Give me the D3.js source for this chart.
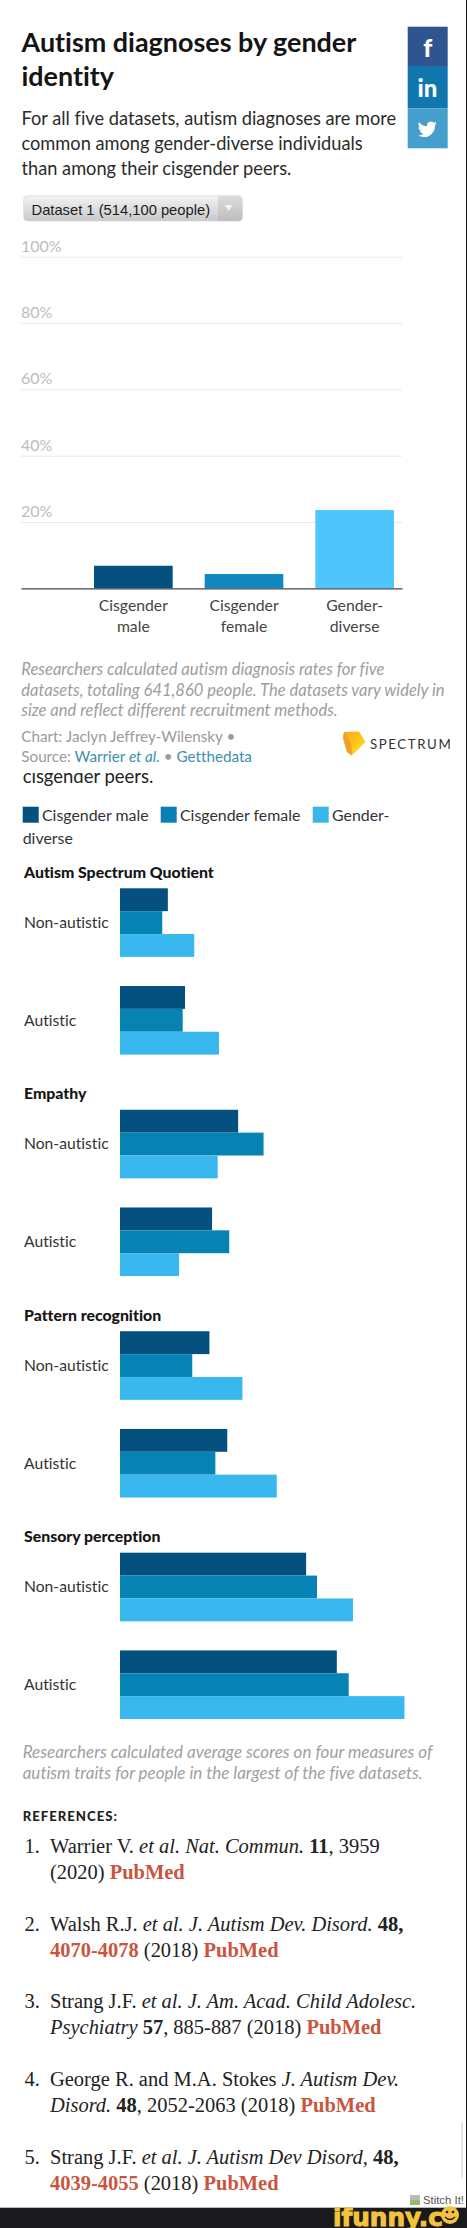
<!DOCTYPE html>
<html><head><meta charset="utf-8">
<script src="https://cdn.jsdelivr.net/npm/d3@7"></script>
<style>html,body{margin:0;padding:0;background:#fff;overflow:hidden}svg{display:block}text{font-variant-ligatures:none;font-feature-settings:"liga" 0,"clig" 0}</style>
</head><body><svg id="c" width="467" height="2228" xmlns="http://www.w3.org/2000/svg"></svg>
<script>
// ---- data ----
const titleLines = ["Autism diagnoses by gender", "identity"];
const subtitleLines = ["For all five datasets, autism diagnoses are more", "common among gender-diverse individuals", "than among their cisgender peers."];
const datasetLabel = "Dataset 1 (514,100 people)";
const tickValues = [20, 40, 60, 80, 100];
const categories = ["Cisgender male", "Cisgender female", "Gender-diverse"];
const categoryLines = [["Cisgender", "male"], ["Cisgender", "female"], ["Gender-", "diverse"]];
const diagnosisRates = [6.8, 4.3, 23.6];
const note1Lines = ["Researchers calculated autism diagnosis rates for five", "datasets, totaling 641,860 people. The datasets vary widely in", "size and reflect different recruitment methods."];
const measures = ["Autism Spectrum Quotient", "Empathy", "Pattern recognition", "Sensory perception"];
const rowsLabels = ["Non-autistic", "Autistic"];
const cisMale = [[14.5, 19.7], [35.8, 27.9], [27.1, 32.5], [56.4, 65.7]];
const cisFemale = [[12.8, 19.0], [43.5, 33.1], [21.9, 28.9], [59.7, 69.3]];
const genderDiverse = [[22.5, 30.0], [29.6, 17.9], [37.1, 47.5], [70.6, 86.2]];
const note2Lines = ["Researchers calculated average scores on four measures of", "autism traits for people in the largest of the five datasets."];
const references = [
 [[["Warrier V. ",""],["et al. Nat. Commun. ","i"],["11",'b'],[", 3959",""]], [["(2020) ",""],["PubMed","l"]]],
 [[["Walsh R.J. ",""],["et al. J. Autism Dev. Disord. ","i"],["48,","b"]], [["4070-4078","l"],[" (2018) ",""],["PubMed","l"]]],
 [[["Strang J.F. ",""],["et al. J. Am. Acad. Child Adolesc.","i"]], [["Psychiatry ","i"],["57","b"],[", 885-887 (2018) ",""],["PubMed","l"]]],
 [[["George R. and M.A. Stokes ",""],["J. Autism Dev.","i"]], [["Disord. ","i"],["48","b"],[", 2052-2063 (2018) ",""],["PubMed","l"]]],
 [[["Strang J.F. ",""],["et al. J. Autism Dev Disord, ","i"],["48,","b"]], [["4039-4055","l"],[" (2018) ",""],["PubMed","l"]]]
];

// ---- helpers ----
const svg = d3.select("#c");
const LATO = "Lato, sans-serif", SERIF = "'Liberation Serif', serif", ARIAL = "'Liberation Sans', Arial, sans-serif";
svg.append("rect").attr("width",467).attr("height",2228).attr("fill","#fff");
function block(lines, o){
  const g = (o.parent||svg).append("g").attr("font-family",o.family||LATO).attr("fill",o.fill||"#222")
    .attr("font-size",20).attr("font-weight",o.weight||400).attr("font-style",o.style||"normal")
    .attr("text-anchor",o.anchor||"start").attr("letter-spacing",o.spacing||null);
  const ts = lines.map((l,i)=>g.append("text").attr("x",Array.isArray(o.x)?o.x[i]:o.x).attr("y",o.ys[i]).text(l));
  const fs = 20*o.w/ts[o.ref||0].node().getComputedTextLength();
  g.attr("font-size",fs);
  return fs;
}
function measure(s,o){
  const t = svg.append("text").attr("font-family",LATO).attr("font-size",20).attr("font-weight",o.weight||400).text(s);
  const fs = 20*o.w/t.node().getComputedTextLength();
  t.remove();
  return fs;
}

// ---- header ----
block(titleLines,{x:21.5,ys:[51.7,86],weight:700,fill:"#141414",w:335});
block(subtitleLines,{x:21.5,ys:[125,150,175],fill:"#2b2b2b",w:375});

// social buttons
const soc = svg.append("g");
soc.append("rect").attr("x",407.7).attr("y",26.7).attr("width",40).attr("height",39.5).attr("fill","#2f5590");
soc.append("rect").attr("x",407.7).attr("y",66).attr("width",40).attr("height",42.3).attr("fill","#0f76ae");
soc.append("rect").attr("x",407.7).attr("y",108.3).attr("width",40).attr("height",40).attr("fill","#449fcc");
soc.append("text").attr("x",427.7).attr("y",57).attr("text-anchor","middle").attr("font-family",LATO).attr("font-weight",900).attr("font-size",25).attr("fill","#fff").text("f");
soc.append("text").attr("x",427.5).attr("y",97).attr("text-anchor","middle").attr("font-family",LATO).attr("font-weight",900).attr("font-size",24).attr("fill","#fff").text("in");
soc.append("path").attr("transform","translate(417.7,119.7) scale(0.8)").attr("fill","#fff")
 .attr("d","M23.953 4.57a10 10 0 01-2.825.775 4.958 4.958 0 002.163-2.723c-.951.555-2.005.959-3.127 1.184a4.92 4.92 0 00-8.384 4.482C7.69 8.095 4.067 6.13 1.64 3.162a4.822 4.822 0 00-.666 2.475c0 1.71.87 3.213 2.188 4.096a4.904 4.904 0 01-2.228-.616v.06a4.923 4.923 0 003.946 4.827 4.996 4.996 0 01-2.212.085 4.936 4.936 0 004.604 3.417 9.867 9.867 0 01-6.102 2.105c-.39 0-.779-.023-1.17-.067a13.995 13.995 0 007.557 2.209c9.053 0 13.998-7.496 13.998-13.985 0-.21 0-.42-.015-.63A9.935 9.935 0 0024 4.59z");

// dropdown
const defs = svg.append("defs");
const gr = defs.append("linearGradient").attr("id","dd").attr("x1",0).attr("y1",0).attr("x2",0).attr("y2",1);
gr.append("stop").attr("offset",0).attr("stop-color","#f3f3f3");
gr.append("stop").attr("offset",1).attr("stop-color","#c9c9c9");
const gr2 = defs.append("linearGradient").attr("id","dd2").attr("x1",0).attr("y1",0).attr("x2",0).attr("y2",1);
gr2.append("stop").attr("offset",0).attr("stop-color","#dcdcdc");
gr2.append("stop").attr("offset",1).attr("stop-color","#bdbdbd");
svg.append("rect").attr("x",23.7).attr("y",195.7).attr("width",218.6).attr("height",25.3).attr("rx",4).attr("fill","url(#dd)").attr("stroke","#d4d4d4").attr("stroke-width",.6);
svg.append("path").attr("d","M218 196 H238.3 a4 4 0 0 1 4 4 V217 a4 4 0 0 1 -4 4 H218 Z").attr("fill","url(#dd2)");
svg.append("path").attr("d","M225 205 h7.5 l-3.75 6 Z").attr("fill","#f4f4f4");
block([datasetLabel],{x:31.5,ys:[215],family:ARIAL,fill:"#1c1c1c",w:178.7});

// ---- column chart ----
const yCol = d3.scaleLinear().domain([0,100]).range([588.3,256.7]);
const xCol = d3.scaleBand().domain(categories).range([94,394]).paddingInner(32/110.67);
const columnColors = ["#04507f","#1087bf","#4fc6fb"];
const gridAxis = d3.axisRight(yCol).tickValues(tickValues).tickSize(381).tickFormat(d=>d+"%");
const ga = svg.append("g").attr("transform","translate(21,0)").call(gridAxis);
ga.select(".domain").remove();
ga.selectAll(".tick line").attr("stroke","#e9e9e9").attr("stroke-width",1);
ga.selectAll(".tick text").attr("x",0).attr("dy",null).attr("y",-5.5).attr("text-anchor","start")
  .attr("font-family",LATO).attr("font-size",16).attr("fill","#bdbdbd");

svg.selectAll("rect.col").data(categories).join("rect").attr("class","col")
  .attr("x",d=>xCol(d)).attr("width",xCol.bandwidth())
  .attr("y",(d,i)=>yCol(diagnosisRates[i])).attr("height",(d,i)=>yCol(0)-yCol(diagnosisRates[i]))
  .attr("fill",(d,i)=>columnColors[i]);
const baseAxis = d3.axisBottom(d3.scaleLinear().domain([0,1]).range([21,402])).tickValues([]).tickSizeOuter(0);
svg.append("g").attr("transform","translate(0,588.3)").call(baseAxis).select(".domain").attr("stroke","#444").attr("stroke-width",1.2);

const catSize = measure("Cisgender",{w:69.3});
categories.forEach((c,i)=>{
  const g = svg.append("g").attr("font-family",LATO).attr("font-size",catSize).attr("fill","#444").attr("text-anchor","middle");
  categoryLines[i].forEach((l,j)=>g.append("text").attr("x",xCol(c)+xCol.bandwidth()/2).attr("y",[611,631.5][j]).text(l));
});

block(note1Lines,{x:21.3,ys:[675,695.5,716],style:"italic",fill:"#9d9d9d",w:423.7,ref:1});
const cs = block(["Chart: Jaclyn Jeffrey-Wilensky •"],{x:21.3,ys:[741.7],fill:"#9a9a9a",w:214});
const src = svg.append("text").attr("x",21.3).attr("y",762.3).attr("font-family",LATO).attr("font-size",cs).attr("fill","#9a9a9a");
src.append("tspan").text("Source: ");
src.append("tspan").attr("fill","#3d8fae").text("Warrier ");
src.append("tspan").attr("fill","#3d8fae").attr("font-style","italic").text("et al.");
src.append("tspan").text(" • ");
src.append("tspan").attr("fill","#3d8fae").text("Getthedata");

// Spectrum logo
const lg = defs.append("linearGradient").attr("id","sp").attr("x1",0).attr("y1",0).attr("x2",1).attr("y2",1);
lg.append("stop").attr("offset",0).attr("stop-color","#f6a623");
lg.append("stop").attr("offset",.55).attr("stop-color","#fcc915");
lg.append("stop").attr("offset",1).attr("stop-color","#fde25a");
svg.append("path").attr("d","M344 732 L359 731.5 L365.5 742 L352 755.5 L347 752 L343 738 Z").attr("fill","url(#sp)");
svg.append("path").attr("d","M344 732 L351 742 L352 755.5 L347 752 L343 738 Z").attr("fill","#f0a028");
block(["SPECTRUM"],{x:370,ys:[749],family:LATO,fill:"#333",spacing:1.6,w:78});

// cropped seam line
defs.append("clipPath").attr("id","seam").append("rect").attr("x",0).attr("y",773).attr("width",467).attr("height",30);
const seamG = svg.append("g").attr("clip-path","url(#seam)");
block(["cisgender peers."],{parent:seamG,x:22.7,ys:[783],fill:"#222",w:130.7});

// ---- legend ----
const legendColors = ["#04507f","#0880b3","#38b6ea"];
const legendX = [22.7,160.7,312.7];
svg.selectAll("rect.lg").data(categories).join("rect").attr("class","lg")
  .attr("x",(d,i)=>legendX[i]).attr("y",806.7).attr("width",16).attr("height",16).attr("fill",(d,i)=>legendColors[i]);
block(["Cisgender male","Cisgender female","Gender-","diverse"],{x:[42,180,332,22.7],ys:[821,821,821,844],fill:"#333",w:106.7});

// ---- horizontal bars ----
const xBar = d3.scaleLinear().domain([0,100]).range([120,450]);
const yFacet = d3.scalePoint().domain(measures).range([888.3,1552.7]);
const yRow = d3.scalePoint().domain(rowsLabels).range([0,97.7]);
const series = [cisMale,cisFemale,genderDiverse];
const yBar = d3.scaleBand().domain(categories).range([0,68.6]);
const barColors = ["#04507f","#0683b3","#38b8ee"];
const facetSize = measure("Autism Spectrum Quotient",{weight:900,w:190});
const rowSize = measure("Non-autistic",{w:84.7});
measures.forEach((m,mi)=>{
  const fg = svg.append("g").attr("transform",`translate(0,${yFacet(m)})`);
  fg.append("text").attr("x",24).attr("y",-10.6).attr("font-family",LATO).attr("font-weight",900).attr("font-size",facetSize).attr("fill","#151515").text(m);
  rowsLabels.forEach((r,ri)=>{
    const rg = fg.append("g").attr("transform",`translate(0,${yRow(r)})`);
    rg.append("text").attr("x",24).attr("y",39.6).attr("font-family",LATO).attr("font-size",rowSize).attr("fill","#333").text(r);
    rg.selectAll("rect").data(categories).join("rect")
      .attr("x",xBar(0)).attr("y",d=>yBar(d)).attr("height",yBar.bandwidth())
      .attr("width",(d,si)=>xBar(series[si][mi][ri])-xBar(0)).attr("fill",(d,si)=>barColors[si]);
  });
});

block(note2Lines,{x:22.7,ys:[1758.3,1779],style:"italic",fill:"#a0a0a0",w:410});
block(["REFERENCES:"],{x:22.7,ys:[1821],weight:900,fill:"#222",spacing:1,w:91.5});

// ---- references ----
const refBase = [1852.7,1930.7,2008.3,2086,2164];
const probe = svg.append("text").attr("font-family",SERIF).attr("font-size",20);
function addRuns(t,runs){
  runs.forEach(([s,k])=>{
    const ts = t.append("tspan").text(s);
    if(k==="i") ts.attr("font-style","italic");
    if(k==="b") ts.attr("font-weight",700);
    if(k==="l") ts.attr("font-weight",700).attr("fill","#c9553f");
  });
}
addRuns(probe,references[0][0]);
const refSize = 20*330/probe.node().getComputedTextLength();
probe.remove();
references.forEach((r,i)=>{
  const g = svg.append("g").attr("font-family",SERIF).attr("font-size",refSize).attr("fill","#222");
  g.append("text").attr("x",24.5).attr("y",refBase[i]).text((i+1)+".");
  r.forEach((runs,j)=>{
    const t = g.append("text").attr("x",50).attr("y",refBase[i]+[0,26][j]).style("white-space","pre");
    addRuns(t,runs);
  });
});

// ---- screenshot furniture ----
svg.append("rect").attr("x",466).attr("y",0).attr("width",1).attr("height",2208).attr("fill","#111");
svg.append("rect").attr("x",461).attr("y",2122).attr("width",2).attr("height",56).attr("fill","#e3e3e3").attr("rx",1);
svg.append("rect").attr("x",410).attr("y",2195).attr("width",10).attr("height",5).attr("fill","#bbb");
svg.append("rect").attr("x",410).attr("y",2200).attr("width",10).attr("height",5).attr("fill","#8fbf6a");
block(["Stitch It!"],{x:423,ys:[2204],family:ARIAL,fill:"#555",w:41});
svg.append("rect").attr("x",0).attr("y",2207.7).attr("width",467).attr("height",20.3).attr("fill","#1a1a1c");
defs.append("clipPath").attr("id","bar").append("rect").attr("x",0).attr("y",2207.7).attr("width",467).attr("height",20.3);
const fun = svg.append("g").attr("clip-path","url(#bar)").attr("stroke","#f5c33b").attr("stroke-width",1);
block(["ifunny.c"],{parent:fun,x:333,ys:[2226],family:"'DejaVu Sans'",weight:700,fill:"#f5c33b",w:110});
svg.append("circle").attr("cx",450).attr("cy",2215).attr("r",9).attr("fill","#f5c33b");
svg.append("circle").attr("cx",447).attr("cy",2212).attr("r",1.3).attr("fill","#1a1a1c");
svg.append("circle").attr("cx",453).attr("cy",2212).attr("r",1.3).attr("fill","#1a1a1c");
svg.append("path").attr("d","M445 2217 q5 5 10 0").attr("fill","none").attr("stroke","#1a1a1c").attr("stroke-width",1.2);
</script></body></html>
